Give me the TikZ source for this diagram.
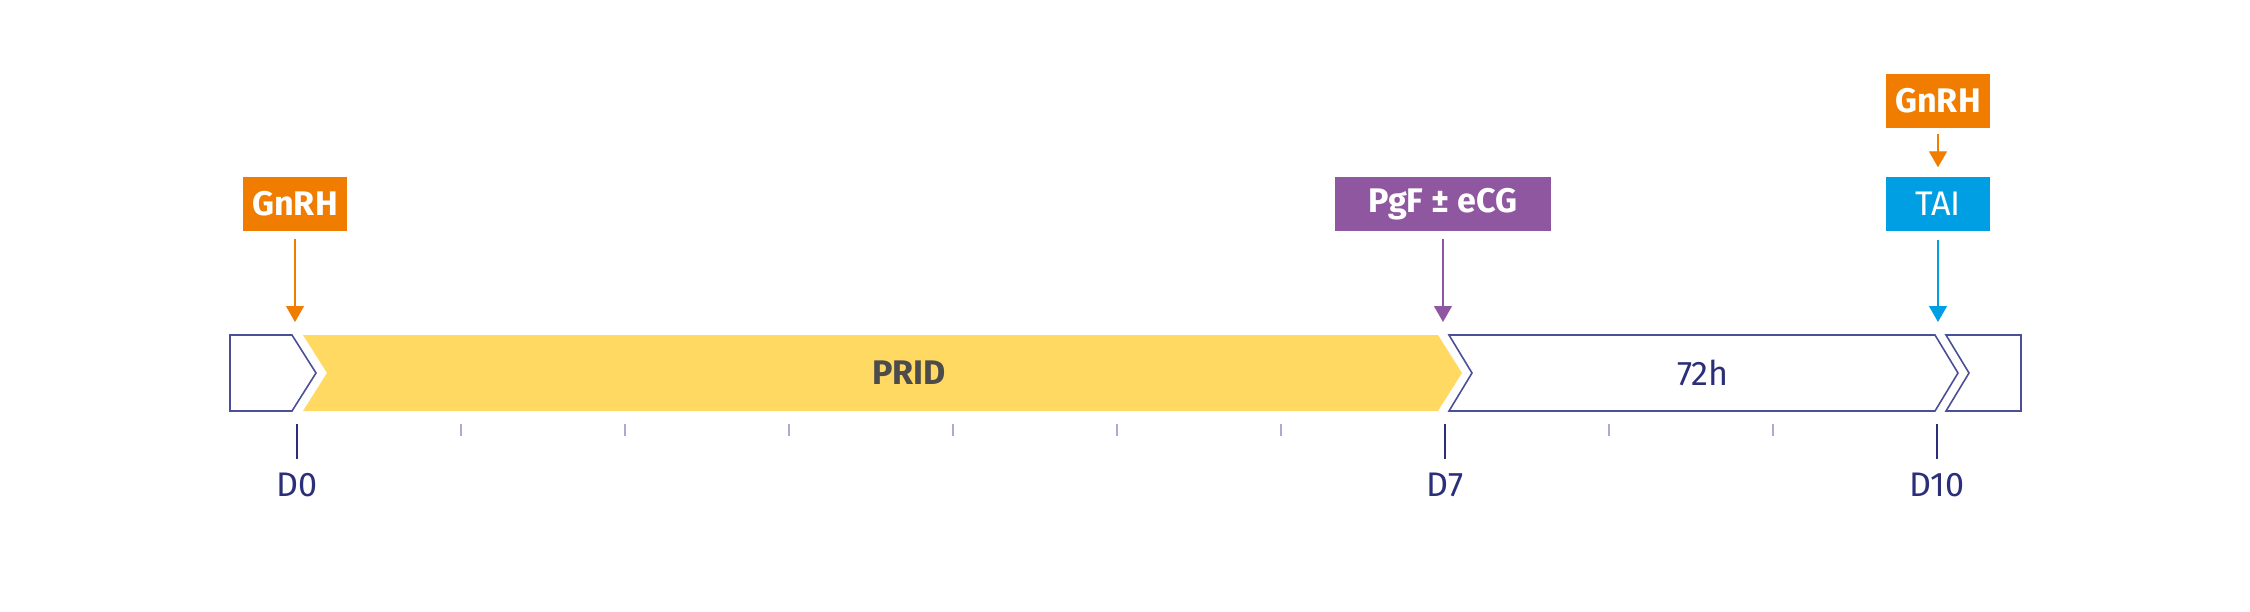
\documentclass[tikz,border=0pt]{standalone}
\usepackage{fontspec}
\setmainfont{Fira Sans}
\usepackage{tikz}
\usetikzlibrary{arrows.meta}
\usetikzlibrary{positioning}
\definecolor{gnrhcol}{HTML}{F07C00}
\definecolor{pgfcol}{HTML}{8E57A0}
\definecolor{taicol}{HTML}{009FE3}
\definecolor{pridcol}{HTML}{FFD962}
\definecolor{navy}{HTML}{2B2F7A}
\definecolor{bandline}{HTML}{4B4F97}
\definecolor{minor}{HTML}{A9ABD0}
\tikzset{tag/.style = {text = white, font = \fontsize{9.7}{11}\selectfont\bfseries,
                       minimum width = 1.03cm, minimum height = 0.54cm, inner sep = 0}}
\tikzset{arr/.style = {-{Triangle[width = 0.18cm, length = 0.16cm]}, line width = 0.35pt}}
\tikzset{band/.style = {draw = bandline, fill = white, line width = 0.45pt, line join = miter}}
\tikzset{lbl/.style = {text = navy, font = \fontsize{9.7}{11}\selectfont, inner sep = 0}}
\begin{document}
\begin{tikzpicture}[x = 0.01cm, y = -0.01cm]
      \useasboundingbox (0, 0) rectangle (2250, 611);
      % bands
      \draw [band] (230, 335) -- (292, 335) -- (316, 373) -- (292, 411) -- (230, 411) -- cycle;
      \fill [pridcol] (303, 335) -- (1438, 335) -- (1462, 373) -- (1438, 411) -- (303, 411) -- (327, 373) -- cycle;
      \draw [band] (1449, 335) -- (1935, 335) -- (1958, 373) -- (1935, 411) -- (1449, 411) -- (1472, 373) -- cycle;
      \draw [band] (1946, 335) -- (2021, 335) -- (2021, 411) -- (1946, 411) -- (1969, 373) -- cycle;
      \node (prid) at (909, 373) [text = black!70, font = \fontsize{9.7}{11}\selectfont\bfseries] {PRID};
      \node (hours) at (1703, 373) [lbl] {72h};
      % ticks
      \foreach \i in {1, ..., 6, 8, 9}
        \draw [minor, line width = 0.4pt] (297 + 164 * \i, 424) -- (297 + 164 * \i, 436);
      \foreach \i/\d in {0/D0, 7/D7, 10/D10} {
        \coordinate (t\i) at (297 + 164 * \i, 424);
        \draw [navy, line width = 0.5pt] (t\i) -- ++(0, 35) node [lbl, below = 0.13cm] (d\i) {\d};
      }
      % treatments
      \node (gnrhA) at (295, 204) [tag, fill = gnrhcol] {GnRH};
      \node (pgf) at (1443, 204) [tag, fill = pgfcol, minimum width = 2.16cm] {PgF ± eCG};
      \node (tai) at (1938, 204) [tag, fill = taicol, font = \fontsize{9.7}{11}\selectfont] {TAI};
      \node (gnrhB) [tag, fill = gnrhcol, above = 0.48cm of tai] {GnRH};
      \coordinate (tipA) at (295, 322);
      \coordinate (tipB) at (1443, 322);
      \coordinate (tipC) at (1938, 322);
      \draw [arr, gnrhcol, shorten <= 0.07cm] (gnrhA) -- (tipA);
      \draw [arr, pgfcol, shorten <= 0.07cm] (pgf) -- (tipB);
      \draw [arr, taicol, shorten <= 0.08cm] (tai) -- (tipC);
      \draw [arr, gnrhcol, shorten <= 0.06cm, shorten >= 0.09cm] (gnrhB) -- (tai);
    \end{tikzpicture}
\end{document}
